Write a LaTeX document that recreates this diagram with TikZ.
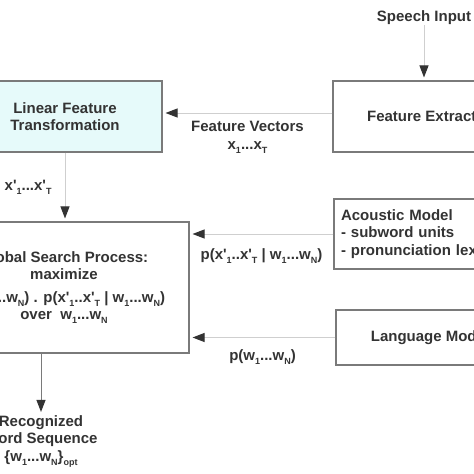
\documentclass[tikz,border=0pt]{standalone}
\usepackage{fontspec}
\setmainfont{Liberation Sans}
\usetikzlibrary{arrows.meta}
\definecolor{PaleCyan}{HTML}{E6FAFA}
\definecolor{FrameGray}{HTML}{7A7A7A}
\definecolor{WireGray}{HTML}{CFCFCF}
\definecolor{InkGray}{HTML}{333333}
\newcommand{\sub}[1]{\raisebox{-4pt}{\fontsize{9}{9}\selectfont #1}}
\newcommand{\xq}{x\textquotesingle}

\begin{document}
\begin{tikzpicture}[x=1pt,y=-1pt,
    font=\fontsize{15}{17.5}\selectfont\bfseries, text=InkGray,
    block/.style={draw=FrameGray, line width=1.1pt, inner sep=0pt, align=center},
    flow/.style={draw=WireGray, line width=1pt,
      -{Triangle[length=12pt,width=9pt,color=InkGray]}, shorten >=3pt},
    tag/.style={inner sep=0pt, align=center}]
  \useasboundingbox (0,0) rectangle (474,474);
  \clip (0,0) rectangle (474,474);
  % boxes
  \node[block, fill=PaleCyan, minimum width=194pt, minimum height=71pt] (ltf) at (65,116.5) {Linear Feature\\Transformation};
  \node[block, minimum width=200pt, minimum height=71pt] (fe) at (433,116.5) {Feature Extraction};
  \node[tag] (speech) at (424,18) {Speech Input};
  \node[block, minimum width=250pt, minimum height=131pt] (gsp) at (64,287.5) {Global Search Process:\\maximize\\[5pt]p(w\sub1...w\sub N) . p(\xq\sub1..\xq\sub T | w\sub1...w\sub N)\\over~ w\sub1...w\sub N};
  \node[block, minimum width=186pt, minimum height=70pt, text width=172pt, align=left] (am) at (427,234) {Acoustic Model\\- subword units\\- pronunciation lexicon};
  \node[block, minimum width=188pt, minimum height=55pt] (lm) at (430,337.5) {Language Model};
  \node[tag] (out) at (41,441) {Recognized\\Word Sequence\\\{w\sub1...w\sub N\}\sub{opt}};
  % connectors
  \draw[flow] (speech.south) -- (speech.south |- fe.north);
  \draw[flow] ([yshift=3.5pt]fe.west) -- ([yshift=3.5pt]ltf.east)
    node[tag, midway, below=8pt] (fv) {Feature Vectors\\x\sub1...x\sub T};
  \draw[flow] (ltf.south) -- (ltf.south |- gsp.north)
    node[tag, midway, left=13pt] (xt) {\xq\sub1...\xq\sub T};
  \draw[flow] (am.west) -- (am.west -| gsp.east)
    node[tag, midway, below=14pt] (pam) {p(\xq\sub1..\xq\sub T | w\sub1...w\sub N)};
  \draw[flow] (lm.west) -- (lm.west -| gsp.east)
    node[tag, midway, below=12pt] (plm) {p(w\sub1...w\sub N)};
  \draw[flow, draw=FrameGray] (out |- gsp.south) -- (out.north);
\end{tikzpicture}
\end{document}
